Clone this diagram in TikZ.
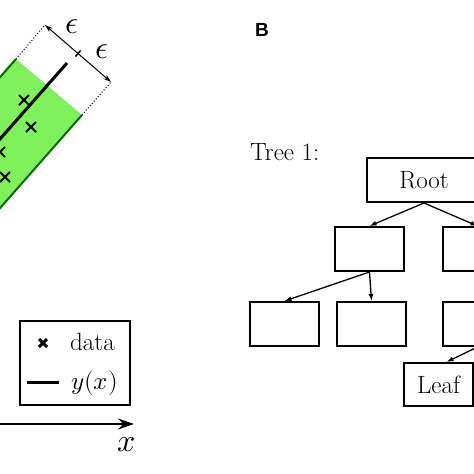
\documentclass[tikz,border=0pt]{standalone}
\usepackage{fontspec}
\usepackage{unicode-math}
\setmathfont{Latin Modern Math}
\newfontfamily\panelfont{Liberation Sans}
\usetikzlibrary{positioning}
\usetikzlibrary{arrows.meta}

\definecolor{bandgreen}{RGB}{125,240,90}
\definecolor{edgegreen}{RGB}{0,110,0}

\tikzset{
  box/.style  = {draw, line width=2pt, minimum width=69pt,
                 minimum height=44pt, inner sep=0pt},
  link/.style = {-{Latex[length=7pt,width=5pt]}, line width=1.3pt},
  cross/.style = {line width=2pt},
  big/.style  = {font=\fontsize{32}{36}\selectfont},
}

\begin{document}
\begin{tikzpicture}[x=1pt, y=-1pt,
  font=\fontsize{25}{29}\selectfont]
  \useasboundingbox (0,0) rectangle (474,474);
  \clip (0,0) rectangle (474,474);

  % band around y(x)
  \coordinate (capU) at (16,59);
  \coordinate (capL) at (82,115);
  \coordinate (farU) at (-116,209);
  \coordinate (farL) at (-50,265);
  \fill[bandgreen] (capU) -- (capL) -- (farL) -- (farU) -- cycle;
  \draw[edgegreen, line width=2pt] (capU) -- (farU);
  \draw[edgegreen, line width=2pt] (capL) -- (farL);
  \coordinate (fitend) at (67,63);
  \coordinate (fitstart) at (-52,198);
  \draw[line width=3pt] (fitstart) -- (fitend);

  % width of the band
  \coordinate (epsU) at (45,25);
  \coordinate (epsL) at (111,82);
  \draw[dotted, line width=1pt] (capU) -- (epsU);
  \draw[dotted, line width=1pt] (capL) -- (epsL);
  \draw[{Stealth[length=8pt,width=5pt]}-{Stealth[length=8pt,width=5pt]},
        line width=1pt] (epsU) -- (epsL);
  \coordinate (tick) at (78,53.5);
  \draw[line width=1.5pt] ([shift={(-2.6,3)}]tick) -- ([shift={(2.6,-3)}]tick);
  \node[big] (eps1) at (72,27) {$\epsilon$};
  \node[big] (eps2) at (102,52) {$\epsilon$};

  % data points
  \foreach \px/\py in {24/100, 31/127, 0/152, 5/177}
    \draw[cross] (\px-5,\py-5) -- (\px+5,\py+5)
                 (\px-5,\py+5) -- (\px+5,\py-5);

  % legend
  \node[draw, line width=2pt, minimum width=110pt, minimum height=84pt]
       (legend) at (75,363) {};
  \draw[line width=3pt] (39,339) -- (47,347) (39,347) -- (47,339);
  \node[anchor=base west, inner sep=0pt] (ldata) at (70,350) {data};
  \coordinate (lineA) at (27,382);
  \coordinate (lineB) at (59,382);
  \draw[line width=3pt] (lineA) -- (lineB);
  \node[anchor=west, inner sep=0pt] (lfit) at (71,383) {$y(x)$};

  % x axis
  \coordinate (xstart) at (0,424);
  \coordinate (xend) at (134,424);
  \draw[-{Stealth[length=16pt,width=11pt]}, line width=2pt] (xstart) -- (xend);
  \node[big] (xlabel) at (127,445) {$x$};

  % panel B
  \node (panelB) at (262,30) {\panelfont\bfseries\fontsize{19}{22}\selectfont B};
  \node[anchor=base west, inner sep=0pt] (tree1) at (250,160) {Tree 1:};

  \node[box, minimum width=114pt] (root) at (424,180) {Root};
  \node[box] (n1) [below=23pt of root, xshift=-54.5pt] {};
  \node[box] (n2) [below=23pt of root, xshift=53.5pt] {};
  \node[box] (n11) [below=29pt of n1, xshift=-85pt] {};
  \node[box] (n12) [below=29pt of n1, xshift=2pt] {};
  \node[box] (n21) [below=29pt of n2] {};
  \node[box, minimum height=43pt] (leaf) [below=15pt of n21, xshift=-39pt] {Leaf};

  \draw[link] (root.south) -- (n1.north);
  \draw[link] (root.south) -- (n2.north);
  \draw[link] (n1.south) -- (n11.north);
  \draw[link] (n1.south) -- (n12.north);
  \draw[link] (n21.south) -- ([xshift=8pt]leaf.north);
\end{tikzpicture}
\end{document}
